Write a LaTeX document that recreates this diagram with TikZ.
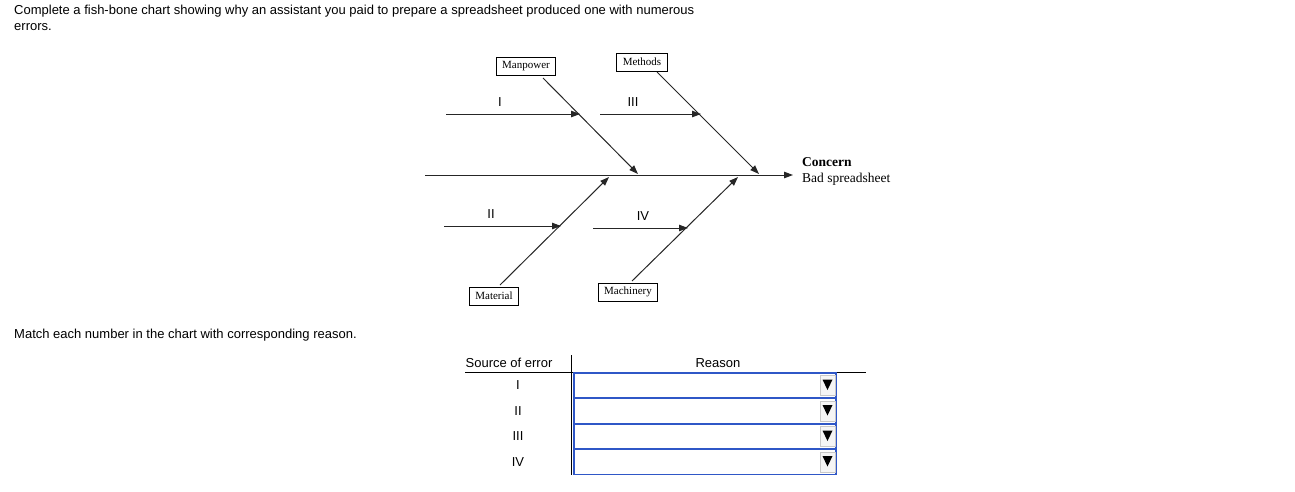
\documentclass[tikz,border=0pt]{standalone}
\usepackage{fontspec}
\setmainfont{Liberation Sans}
\newfontfamily\tnr{Liberation Serif}
\usetikzlibrary{arrows.meta}
\definecolor{ddblue}{HTML}{2F57C7}
\definecolor{btngray}{HTML}{C8C8C8}
\tikzset{
  bone/.style={line width=1pt, draw=black!85, -{Triangle[length=9pt,width=6.5pt]}},
  catbox/.style={draw, line width=0.8pt, font=\tnr\fontsize{11}{13}\selectfont, inner xsep=6pt, inner ysep=3pt, minimum height=18pt},
  qtext/.style={anchor=base west, font=\fontsize{13}{15}\selectfont, inner sep=0pt},
  numlbl/.style={font=\fontsize{13}{15}\selectfont, inner sep=0pt},
  ddbox/.style={draw=ddblue, line width=1.2pt},
  ddbtn/.style={draw=btngray, fill=black!4, line width=0.6pt}
}
\begin{document}
\begin{tikzpicture}[x=1pt,y=-1pt]
\useasboundingbox (0,0) rectangle (1295,491);
% question text
\node[qtext] (q1) at (14,14.5) {Complete a fish-bone chart showing why an assistant you paid to prepare a spreadsheet produced one with numerous};
\node[qtext] (q2) at (14,30) {errors.};
\node[qtext] (q3) at (14,338) {Match each number in the chart with corresponding reason.};

% spine
\coordinate (spineL) at (425,175);
\coordinate (head) at (793,175);
\draw[bone] (spineL) -- (head);
\node[anchor=north west, inner sep=0pt, align=left, font=\tnr\fontsize{13.5}{16}\selectfont] (concern) at (802,157) {\textbf{Concern}\\Bad spreadsheet};

% category boxes
\node[catbox] (manpower) at (526,66) {Manpower};
\node[catbox] (methods) at (642,62) {Methods};
\node[catbox] (material) at (494,296) {Material};
\node[catbox] (machinery) at (628,292) {Machinery};

% main bones
\coordinate (mpS) at (543,78);
\coordinate (mpE) at (638,174);
\coordinate (meS) at (657,72);
\coordinate (meE) at (759,174);
\coordinate (maS) at (500,285);
\coordinate (maE) at (609,177);
\coordinate (mcS) at (632,281);
\coordinate (mcE) at (738,177);
\draw[bone] (mpS) -- (mpE);
\draw[bone] (meS) -- (meE);
\draw[bone] (maS) -- (maE);
\draw[bone] (mcS) -- (mcE);

% sub bones
\coordinate (s1S) at (446,114); \coordinate (s1E) at (580,114);
\coordinate (s3S) at (600,114); \coordinate (s3E) at (701,114);
\coordinate (s2S) at (444,226); \coordinate (s2E) at (561,226);
\coordinate (s4S) at (593,228); \coordinate (s4E) at (688,228);
\draw[bone] (s1S) -- (s1E);
\draw[bone] (s3S) -- (s3E);
\draw[bone] (s2S) -- (s2E);
\draw[bone] (s4S) -- (s4E);

\node[numlbl] (l1) at (500,102) {I};
\node[numlbl] (l3) at (633,102) {III};
\node[numlbl] (l2) at (491,214) {II};
\node[numlbl] (l4) at (643,216) {IV};

% table
\node[numlbl] (hsrc) at (509,363) {Source of error};
\node[numlbl] (hrsn) at (718,363) {Reason};
\coordinate (vT) at (571,355); \coordinate (vB) at (571,475);
\coordinate (hL) at (465,372); \coordinate (hR) at (866,372);
\draw[line width=1pt] (vT) -- (vB);
\draw[line width=1pt] (hL) -- (hR);

\foreach \r/\lab/\yt in {1/I/373, 2/II/398.5, 3/III/424, 4/IV/449.5}{
  \node[numlbl] (rl\r) at (518,\yt+12.5) {\lab};
  \draw[ddbox] (574,\yt) rectangle (836,\yt+25);
  \draw[ddbtn] (820,\yt+2.5) rectangle (835,\yt+22.5);
  \fill (822.5,\yt+6.5) -- (832.5,\yt+6.5) -- (827.5,\yt+17) -- cycle;
}
\end{tikzpicture}
\end{document}
